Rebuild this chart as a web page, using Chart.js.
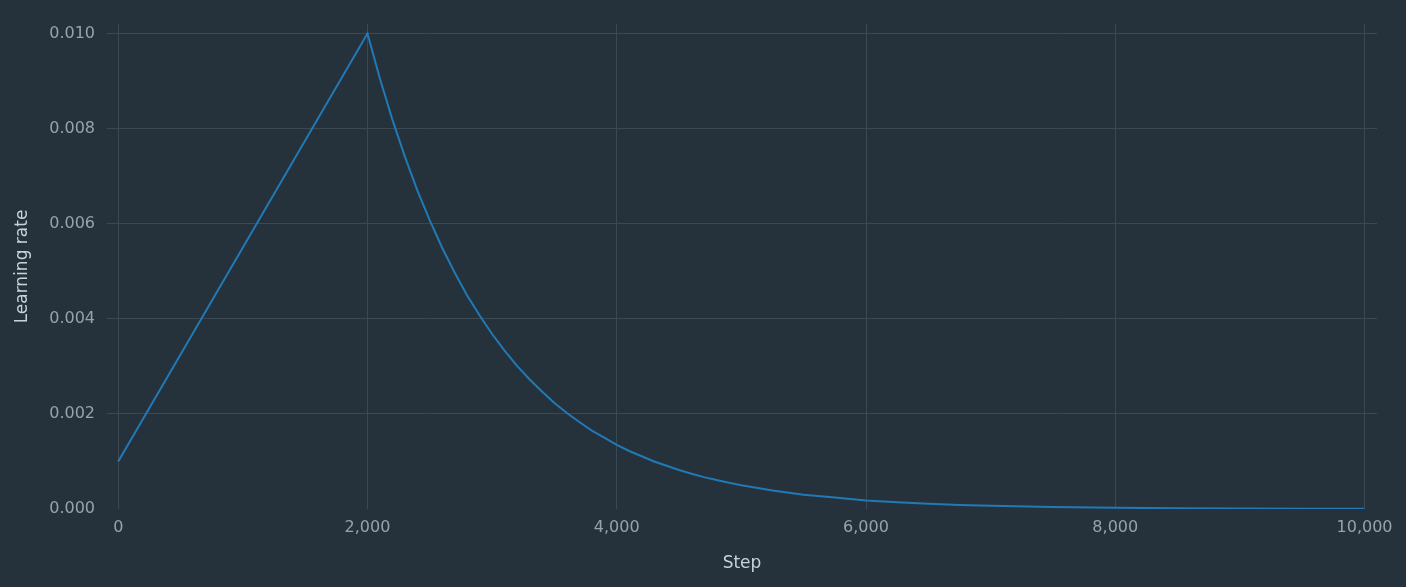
<!DOCTYPE html>
<html>
<head>
<meta charset="utf-8">
<script src="https://cdn.jsdelivr.net/npm/chart.js@4/dist/chart.umd.min.js"></script>
<style>
    html, body {
        margin: 0;
        padding: 0;
        background: #25323c;
    }
    #wrap {
        width: 1406px;
        height: 587px;
    }
</style>
</head>
<body>
<div id="wrap"><canvas id="lrChart"></canvas></div>
<script>
// Learning rate schedule (linear warmup, then decay)
const steps = [
    0, 2000, 2100, 2200, 2300, 2400, 2500, 2600, 2700, 2800, 2900,
    3000, 3100, 3200, 3300, 3400, 3500, 3600, 3700, 3800, 3900,
    4000, 4100, 4200, 4300, 4400, 4500, 4600, 4700, 4800, 4900,
    5000, 5250, 5500, 5750, 6000, 6250, 6500, 6750,
    7000, 7500, 8000, 8500, 9000, 9500, 10000
];
const learningRates = [
    0.00100, 0.01000, 0.00905, 0.00819, 0.00741, 0.00670, 0.00607, 0.00549, 0.00497, 0.00449, 0.00407,
    0.00368, 0.00333, 0.00301, 0.00273, 0.00247, 0.00223, 0.00202, 0.00183, 0.00165, 0.00150,
    0.00135, 0.00122, 0.00111, 0.00100, 0.00091, 0.00082, 0.00074, 0.00067, 0.00061, 0.00055,
    0.00050, 0.00039, 0.00030, 0.00024, 0.00018, 0.00014, 0.00011, 0.000085,
    0.000067, 0.000041, 0.000025, 0.000015, 0.000009, 0.000006, 0.000003
];
const xTicks = [0, 2000, 4000, 6000, 8000, 10000];
const yTicks = [0, 0.002, 0.004, 0.006, 0.008, 0.010];

const colors = {
    background: '#25323c',
    line: '#2179b5',
    grid: '#3b4953',
    tick: '#97a3ab',
    title: '#c9d2d8'
};

// Paint the dark background behind the chart
const backgroundPlugin = {
    id: 'background',
    beforeDraw(chart) {
        const ctx = chart.ctx;
        ctx.save();
        ctx.fillStyle = colors.background;
        ctx.fillRect(0, 0, chart.width, chart.height);
        ctx.restore();
    }
};

const points = steps.map((s, i) => ({ x: s, y: learningRates[i] }));

new Chart(document.getElementById('lrChart'), {
    type: 'line',
    data: {
        datasets: [{
            label: 'Learning rate',
            data: points,
            borderColor: colors.line,
            borderWidth: 2,
            pointRadius: 0,
            fill: false,
            tension: 0
        }]
    },
    options: {
        responsive: true,
        maintainAspectRatio: false,
        animation: false,
        layout: {
            padding: { top: 24, right: 29, left: 0, bottom: 0 }
        },
        plugins: {
            legend: { display: false },
            tooltip: { enabled: false }
        },
        scales: {
            x: {
                type: 'linear',
                min: -90,
                max: 10100,
                afterBuildTicks(axis) {
                    axis.ticks = xTicks.map(v => ({ value: v }));
                },
                afterFit(axis) {
                    axis.height = 78;
                },
                border: { display: false },
                grid: {
                    color: colors.grid,
                    lineWidth: 1,
                    drawTicks: false
                },
                ticks: {
                    color: colors.tick,
                    padding: 9,
                    maxRotation: 0,
                    font: { family: 'DejaVu Sans', size: 16 },
                    callback: v => v.toLocaleString('en-US')
                },
                title: {
                    display: true,
                    text: 'Step',
                    color: colors.title,
                    padding: { top: 0, bottom: 13 },
                    font: { family: 'DejaVu Sans', size: 17 }
                }
            },
            y: {
                min: 0,
                max: 0.0102,
                afterBuildTicks(axis) {
                    axis.ticks = yTicks.map(v => ({ value: v }));
                },
                afterFit(axis) {
                    axis.width = 107;
                },
                border: { display: false },
                grid: {
                    color: ctx => ctx.tick && ctx.tick.value === 0 ? 'rgba(0,0,0,0)' : colors.grid,
                    lineWidth: 1,
                    drawTicks: false
                },
                ticks: {
                    color: colors.tick,
                    padding: 12,
                    font: { family: 'DejaVu Sans', size: 16 },
                    callback: v => v.toFixed(3)
                },
                title: {
                    display: true,
                    text: 'Learning rate',
                    color: colors.title,
                    padding: { top: 12, bottom: 0 },
                    font: { family: 'DejaVu Sans', size: 17 }
                }
            }
        }
    },
    plugins: [backgroundPlugin]
});
</script>
</body>
</html>
